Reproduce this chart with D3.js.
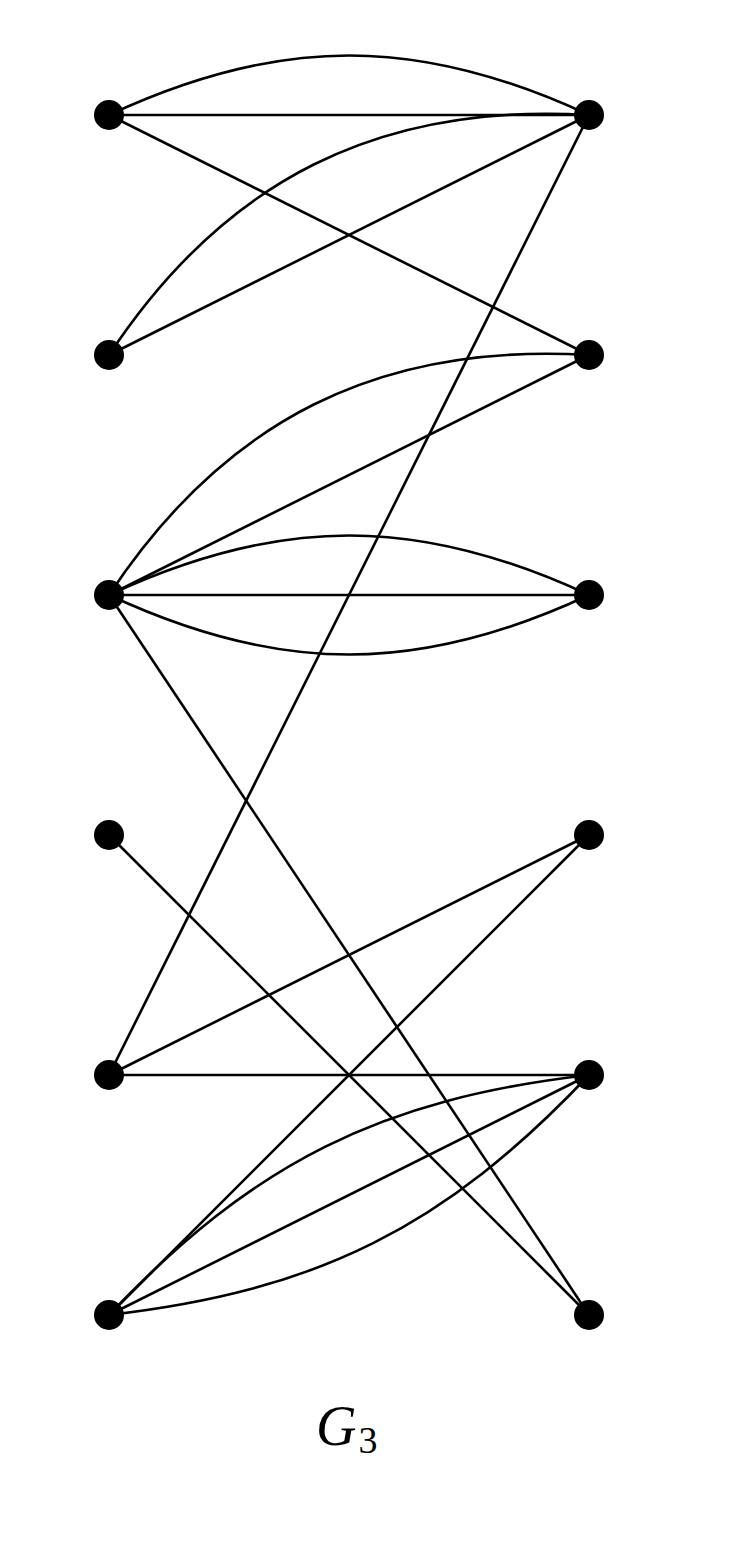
<!DOCTYPE html>
<html>
<head>
<meta charset="utf-8">
<script src="https://cdn.jsdelivr.net/npm/d3@7"></script>
<style>
  html, body { margin: 0; padding: 0; background: #fff; }
</style>
</head>
<body>
<div id="graph"></div>
<script>
// rows of the bipartite graph (6 vertices per side)
const rows = [0, 1, 2, 3, 4, 5];
const sides = ["left", "right"];

// edges: [left row, right row, bend angle in degrees (0 = straight)]
const edges = [
    [0, 0, 0], [0, 0, 25], [0, 1, 0],
    [1, 0, 0], [1, 0, 30],
    [4, 0, 0],
    [2, 1, 0], [2, 1, 30],
    [2, 2, 0], [2, 2, 25], [2, 2, -25],
    [2, 5, 0],
    [3, 5, 0],
    [4, 3, 0], [4, 4, 0],
    [5, 3, 0], [5, 4, 0], [5, 4, 20], [5, 4, -20]
];

const graphName = "G";
const graphIndex = "3";

const width = 733, height = 1546;

const svg = d3.select("#graph")
    .append("svg")
    .attr("width", width)
    .attr("height", height)
    .attr("viewBox", [0, 0, width, height]);

svg.append("rect")
    .attr("width", width)
    .attr("height", height)
    .attr("fill", "#fff");

// scales for node positions
const x = d3.scalePoint().domain(sides).range([109, 589]);
const y = d3.scalePoint().domain(rows).range([115, 1315]);

// tikz-like "bend left" cubic curve between two points
function edgePath(e) {
    const x0 = x("left"), y0 = y(e[0]);
    const x1 = x("right"), y1 = y(e[1]);
    const p = d3.path();
    p.moveTo(x0, y0);
    if (e[2] === 0) {
        p.lineTo(x1, y1);
        return p.toString();
    }
    const dx = x1 - x0, dy = y1 - y0;
    const d = Math.hypot(dx, dy);
    const ux = dx / d, uy = dy / d;
    const nx = uy, ny = -ux; // left normal (screen coords)
    const t = e[2] * Math.PI / 180;
    const k = 0.3915 * d;
    const c = Math.cos(t), s = Math.sin(t);
    p.bezierCurveTo(
        x0 + k * (c * ux + s * nx), y0 + k * (c * uy + s * ny),
        x1 + k * (-c * ux + s * nx), y1 + k * (-c * uy + s * ny),
        x1, y1
    );
    return p.toString();
}

svg.append("g")
    .attr("class", "links")
    .selectAll("path")
    .data(edges)
    .enter()
    .append("path")
    .attr("d", edgePath)
    .attr("fill", "none")
    .attr("stroke", "#000")
    .attr("stroke-width", 2.6);

const nodeData = sides.flatMap(side => rows.map(r => ({ side, r })));

svg.append("g")
    .attr("class", "nodes")
    .selectAll("circle")
    .data(nodeData)
    .enter()
    .append("circle")
    .attr("cx", d => x(d.side))
    .attr("cy", d => y(d.r))
    .attr("r", 15)
    .attr("fill", "#000");

// label
const label = svg.append("text")
    .attr("x", 316)
    .attr("y", 1445)
    .attr("font-family", "'Liberation Serif', 'DejaVu Serif', serif")
    .attr("fill", "#000");

label.append("tspan")
    .attr("font-style", "italic")
    .attr("font-size", 56)
    .text(graphName);

label.append("tspan")
    .attr("font-size", 38)
    .attr("dx", 2)
    .attr("dy", 8)
    .text(graphIndex);
</script>
</body>
</html>
